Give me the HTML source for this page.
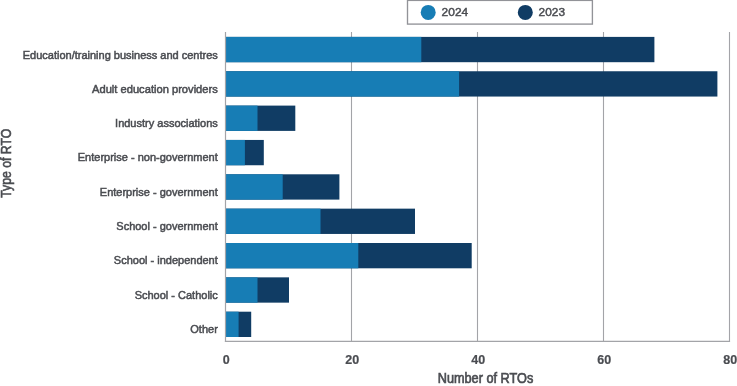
<!DOCTYPE html>
<html><head><meta charset="utf-8">
<style>
html,body{margin:0;padding:0;background:#fff;width:737px;height:386px;overflow:hidden}
svg{display:block;will-change:transform}
text{font-family:"Liberation Sans",sans-serif;fill:#4a4c51}
.cat{font-size:11px;text-anchor:end;stroke:#4a4c51;stroke-width:0.5px}
.tick{font-size:12.5px;font-weight:bold;text-anchor:middle;stroke:#4a4c51;stroke-width:0.2px}
.ttl{font-size:14px;text-anchor:middle;stroke:#4a4c51;stroke-width:0.6px}
.leg{font-size:11.6px;stroke:#4a4c51;stroke-width:0.45px}
</style></head><body>
<svg width="737" height="386" viewBox="0 0 737 386">
<rect x="0" y="0" width="737" height="386" fill="#fff"/>
<rect x="407.5" y="0.4" width="184.9" height="23.7" fill="#fff" stroke="#929398" stroke-width="1.35"/>
<circle cx="428.2" cy="12.4" r="7.5" fill="#177db5"/>
<text class="leg" x="441.6" y="15.9" textLength="26.6" lengthAdjust="spacingAndGlyphs">2024</text>
<circle cx="525.3" cy="12.4" r="7.5" fill="#103c64"/>
<text class="leg" x="538.6" y="15.9" textLength="26.4" lengthAdjust="spacingAndGlyphs">2023</text>
<g stroke="#a3a4a8" stroke-width="1.1"><line x1="351.50" y1="32" x2="351.50" y2="341.4"/><line x1="477.50" y1="32" x2="477.50" y2="341.4"/><line x1="603.50" y1="32" x2="603.50" y2="341.4"/><line x1="729.50" y1="32" x2="729.50" y2="341.4"/></g>
<rect x="226.00" y="36.90" width="428.40" height="25.3" fill="#103c64"/><rect x="226.00" y="36.90" width="195.30" height="25.3" fill="#177db5"/><rect x="226.00" y="71.25" width="491.40" height="25.3" fill="#103c64"/><rect x="226.00" y="71.25" width="233.10" height="25.3" fill="#177db5"/><rect x="226.00" y="105.60" width="69.30" height="25.3" fill="#103c64"/><rect x="226.00" y="105.60" width="31.50" height="25.3" fill="#177db5"/><rect x="226.00" y="139.95" width="37.80" height="25.3" fill="#103c64"/><rect x="226.00" y="139.95" width="18.90" height="25.3" fill="#177db5"/><rect x="226.00" y="174.30" width="113.40" height="25.3" fill="#103c64"/><rect x="226.00" y="174.30" width="56.70" height="25.3" fill="#177db5"/><rect x="226.00" y="208.65" width="189.00" height="25.3" fill="#103c64"/><rect x="226.00" y="208.65" width="94.50" height="25.3" fill="#177db5"/><rect x="226.00" y="243.00" width="245.70" height="25.3" fill="#103c64"/><rect x="226.00" y="243.00" width="132.30" height="25.3" fill="#177db5"/><rect x="226.00" y="277.35" width="63.00" height="25.3" fill="#103c64"/><rect x="226.00" y="277.35" width="31.50" height="25.3" fill="#177db5"/><rect x="226.00" y="311.70" width="25.20" height="25.3" fill="#103c64"/><rect x="226.00" y="311.70" width="12.60" height="25.3" fill="#177db5"/>
<g stroke="#a3a4a8" stroke-width="1.2">
<line x1="225.5" y1="32" x2="225.5" y2="342"/>
<line x1="224.9" y1="341.4" x2="730.1" y2="341.4"/>
</g>
<text class="cat" x="217.8" y="58.50">Education/training business and centres</text><text class="cat" x="217.8" y="92.82" textLength="125.8" lengthAdjust="spacingAndGlyphs">Adult education providers</text><text class="cat" x="217.8" y="127.14">Industry associations</text><text class="cat" x="217.8" y="161.46">Enterprise - non-government</text><text class="cat" x="217.8" y="195.78">Enterprise - government</text><text class="cat" x="217.8" y="230.10">School - government</text><text class="cat" x="217.8" y="264.42">School - independent</text><text class="cat" x="217.8" y="298.74">School - Catholic</text><text class="cat" x="217.8" y="333.06">Other</text>
<text class="tick" x="226.20" y="363.7">0</text><text class="tick" x="352.20" y="363.7">20</text><text class="tick" x="478.20" y="363.7">40</text><text class="tick" x="604.20" y="363.7">60</text><text class="tick" x="730.20" y="363.7">80</text>
<text class="ttl" style="stroke-width:0.65px" x="485.5" y="382.6" textLength="95.5" lengthAdjust="spacingAndGlyphs">Number of RTOs</text>
<text class="ttl" transform="translate(10.9,163.3) rotate(-90)" textLength="69" lengthAdjust="spacingAndGlyphs">Type of RTO</text>
</svg>
</body></html>
